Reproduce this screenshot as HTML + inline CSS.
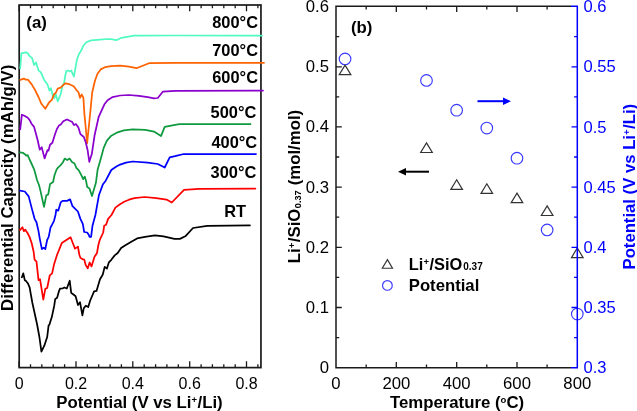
<!DOCTYPE html>
<html><head><meta charset="utf-8"><style>
html,body{margin:0;padding:0;background:#fff;}
body{width:637px;height:411px;overflow:hidden;}
svg{display:block;font-family:"Liberation Sans", sans-serif;will-change:transform;}
</style></head><body>
<svg width="637" height="411" viewBox="0 0 637 411">
<path d="M19.1,367.6v-6.3M19.1,5.0v6.3M30.5,367.6v-3.3M30.5,5.0v3.3M41.8,367.6v-3.3M41.8,5.0v3.3M53.2,367.6v-3.3M53.2,5.0v3.3M64.6,367.6v-3.3M64.6,5.0v3.3M76.0,367.6v-6.3M76.0,5.0v6.3M87.3,367.6v-3.3M87.3,5.0v3.3M98.7,367.6v-3.3M98.7,5.0v3.3M110.1,367.6v-3.3M110.1,5.0v3.3M121.4,367.6v-3.3M121.4,5.0v3.3M132.8,367.6v-6.3M132.8,5.0v6.3M144.2,367.6v-3.3M144.2,5.0v3.3M155.6,367.6v-3.3M155.6,5.0v3.3M166.9,367.6v-3.3M166.9,5.0v3.3M178.3,367.6v-3.3M178.3,5.0v3.3M189.7,367.6v-6.3M189.7,5.0v6.3M201.1,367.6v-3.3M201.1,5.0v3.3M212.4,367.6v-3.3M212.4,5.0v3.3M223.8,367.6v-3.3M223.8,5.0v3.3M235.2,367.6v-3.3M235.2,5.0v3.3M246.5,367.6v-6.3M246.5,5.0v6.3M257.9,367.6v-3.3M257.9,5.0v3.3" stroke="#1a1a1a" stroke-width="1.3" fill="none"/>
<rect x="19.2" y="5.0" width="241.75" height="362.6" fill="none" stroke="#1a1a1a" stroke-width="1.7"/>
<text x="19.1" y="389" font-size="16" text-anchor="middle">0</text>
<text x="76.0" y="389" font-size="16" text-anchor="middle">0.2</text>
<text x="132.8" y="389" font-size="16" text-anchor="middle">0.4</text>
<text x="189.7" y="389" font-size="16" text-anchor="middle">0.6</text>
<text x="246.5" y="389" font-size="16" text-anchor="middle">0.8</text>
<text x="139.5" y="407.6" font-size="16.8" font-weight="bold" text-anchor="middle">Potential (V vs Li<tspan font-size="9.5" dy="-5">+</tspan><tspan dy="5" dx="0.5">/Li)</tspan></text>
<text transform="translate(12.5,187.8) rotate(-90)" font-size="16.8" font-weight="bold" text-anchor="middle">Differential Capacity (mAh/g/V)</text>
<text x="26.3" y="27.5" font-size="16.8" font-weight="bold">(a)</text>
<text x="258.0" y="28.4" font-size="16.4" font-weight="bold" text-anchor="end">800°C</text>
<text x="258.0" y="55.6" font-size="16.4" font-weight="bold" text-anchor="end">700°C</text>
<text x="258.0" y="83.0" font-size="16.4" font-weight="bold" text-anchor="end">600°C</text>
<text x="256.3" y="117.8" font-size="16.4" font-weight="bold" text-anchor="end">500°C</text>
<text x="257.2" y="147.7" font-size="16.4" font-weight="bold" text-anchor="end">400°C</text>
<text x="256.3" y="178.3" font-size="16.4" font-weight="bold" text-anchor="end">300°C</text>
<text x="246.0" y="216.8" font-size="16.4" font-weight="bold" text-anchor="end">RT</text>
<polyline points="20.2,68.4 21.4,53.3 23.4,52.8 25.8,52.3 27.8,53.3 29.2,55.7 32.1,58.1 34.1,65.0 36.0,62.5 38.5,70.3 40.9,72.3 43.8,79.1 45.0,81.3 47.4,84.2 49.4,90.6 50.8,88.1 52.8,95.4 54.2,98.4 55.7,94.0 57.7,101.3 60.6,94.5 62.5,85.7 64.0,83.3 65.4,75.0 66.3,71.0 68.3,70.5 69.2,71.5 71.2,70.5 72.7,73.9 73.9,76.5 75.6,67.1 77.0,59.3 79.0,54.0 80.9,51.1 83.4,45.7 86.3,42.3 91.1,40.4 100.0,39.6 107.6,39.0 111.0,39.2 116.4,40.2 121.4,37.8 133.9,35.7 175.0,35.5 262.0,35.7" fill="none" stroke="#50fac0" stroke-width="1.75" stroke-linejoin="round" stroke-linecap="round"/>
<polyline points="20.3,79.8 23.9,78.6 25.3,79.5 27.8,79.5 31.7,84.4 34.6,89.2 38.5,97.0 41.4,103.8 45.3,108.8 48.9,102.7 51.8,99.8 54.2,94.0 55.7,93.0 57.7,88.6 60.6,87.7 64.5,83.8 65.4,83.3 69.3,84.2 73.7,86.2 76.1,89.6 78.6,92.5 80.0,97.9 81.8,94.5 83.4,97.9 84.4,113.9 85.9,129.5 87.1,143.4 89.5,120.0 90.5,110.0 92.2,92.5 95.0,80.5 97.5,73.8 100.7,69.4 105.0,67.2 111.3,66.1 120.1,65.7 128.9,66.6 136.5,68.2 149.0,63.2 175.0,62.8 264.0,62.8" fill="none" stroke="#ff6200" stroke-width="1.75" stroke-linejoin="round" stroke-linecap="round"/>
<polyline points="20.2,129.3 21.9,114.7 24.4,115.7 27.8,117.7 29.7,120.1 31.7,124.0 34.1,126.9 36.3,135.0 37.8,140.8 39.7,149.6 41.7,147.2 44.6,158.4 47.5,150.1 48.5,150.6 50.0,144.7 52.4,142.8 55.0,134.3 56.9,129.0 58.9,125.6 60.8,124.6 63.3,121.2 66.2,119.7 67.7,119.7 69.6,120.7 72.0,121.7 74.0,125.1 75.9,124.1 78.4,127.5 80.3,133.8 82.3,135.8 83.7,136.8 85.7,142.1 87.6,150.0 89.3,161.8 91.8,154.1 94.7,134.7 98.6,117.2 104.4,104.3 107.6,100.2 112.6,97.1 120.1,95.5 128.9,95.0 139.0,95.8 147.8,97.1 154.0,98.3 157.8,98.0 162.8,91.7 175.0,90.8 263.0,90.6" fill="none" stroke="#8a00cc" stroke-width="1.75" stroke-linejoin="round" stroke-linecap="round"/>
<polyline points="20.0,152.3 22.9,152.8 24.8,154.2 26.3,155.7 27.8,155.2 28.7,157.7 31.7,164.0 34.1,169.3 35.5,174.2 37.0,180.0 39.0,185.0 40.4,190.6 44.0,206.8 46.3,195.4 48.2,194.5 50.1,183.9 53.1,182.0 54.5,175.2 56.5,169.8 58.0,167.6 60.4,165.4 62.8,162.5 64.7,158.6 67.2,160.1 69.6,158.6 72.0,162.0 74.5,163.5 76.4,167.9 78.8,170.3 81.3,175.2 83.2,179.1 84.7,176.6 86.1,181.0 87.1,186.7 89.5,188.6 92.0,196.0 95.9,182.8 97.6,169.8 100.7,158.9 103.8,147.6 106.9,140.7 111.3,135.7 117.6,132.3 123.9,130.4 132.7,129.4 145.3,129.8 154.0,131.6 161.0,136.1 164.7,126.9 175.0,124.8 179.4,124.2 250.5,124.0" fill="none" stroke="#109a40" stroke-width="1.75" stroke-linejoin="round" stroke-linecap="round"/>
<polyline points="20.0,190.6 24.8,191.5 28.7,196.4 31.7,208.1 33.6,215.0 34.6,218.9 36.5,222.3 38.5,231.1 39.9,239.3 41.9,249.1 43.8,247.6 45.3,249.1 47.2,239.8 48.7,236.9 50.6,227.2 52.1,224.7 54.0,220.8 55.5,215.0 56.3,209.7 58.2,210.7 60.7,202.4 62.6,200.9 67.0,200.9 70.1,199.4 72.5,206.2 75.0,208.6 77.9,211.5 80.4,218.9 82.8,223.8 84.2,232.0 87.2,232.5 88.6,234.5 89.6,236.9 91.1,236.9 92.5,225.7 95.4,215.0 98.9,195.3 102.8,184.6 105.7,180.7 111.3,170.0 116.0,166.8 120.1,164.6 126.0,162.6 132.7,161.5 147.8,162.7 157.8,164.0 164.7,167.5 169.7,157.4 175.0,156.2 183.8,154.0 256.0,154.1" fill="none" stroke="#0000ff" stroke-width="1.75" stroke-linejoin="round" stroke-linecap="round"/>
<polyline points="20.0,230.1 22.4,227.2 23.9,231.1 25.3,229.6 27.8,233.5 29.7,237.4 31.7,243.2 33.6,251.5 34.6,259.7 36.5,261.7 38.5,280.2 40.0,279.2 43.3,299.6 45.3,288.9 47.2,288.0 49.8,275.3 52.1,273.4 54.0,264.6 57.0,255.0 61.8,243.1 70.6,237.3 72.5,242.2 75.0,248.6 77.9,246.6 79.4,255.0 80.4,257.7 82.3,259.1 84.2,259.6 85.7,265.0 87.7,268.4 89.6,262.5 91.5,266.4 94.5,256.7 96.9,253.3 98.4,245.0 99.8,239.8 103.2,232.5 104.2,225.7 106.1,224.7 108.1,218.9 111.5,215.0 115.4,207.6 120.0,204.2 124.2,201.8 129.0,199.7 134.4,198.1 144.6,197.0 156.3,198.1 166.5,199.6 171.8,202.5 184.0,189.9 199.0,188.8 255.4,188.6" fill="none" stroke="#ff0000" stroke-width="1.75" stroke-linejoin="round" stroke-linecap="round"/>
<polyline points="21.9,277.3 23.3,273.4 24.8,280.2 25.8,280.8 27.8,283.2 29.7,287.6 30.4,291.8 32.3,302.5 34.2,311.3 37.2,325.0 39.4,337.0 41.4,351.6 44.3,345.7 47.2,337.0 48.6,325.3 49.3,325.0 51.8,317.1 54.2,305.9 55.2,299.1 57.1,297.7 59.1,290.8 60.0,288.7 62.4,288.5 64.4,287.5 66.8,288.5 69.7,280.7 71.2,292.9 73.1,294.3 75.6,296.3 78.0,305.0 80.0,302.2 82.4,315.4 83.8,308.1 85.8,305.7 88.2,307.0 90.2,300.5 94.1,291.4 96.5,290.9 100.0,279.2 102.7,274.7 104.7,266.9 106.9,268.6 108.9,262.3 111.3,259.8 114.7,255.4 117.7,253.0 121.1,248.1 125.4,245.2 131.3,241.8 137.1,238.4 145.0,236.8 154.9,235.4 163.6,236.4 174.4,238.9 179.9,238.9 185.3,236.3 193.0,228.0 207.2,225.8 249.9,225.4" fill="none" stroke="#000000" stroke-width="1.75" stroke-linejoin="round" stroke-linecap="round"/>
<path d="M366.2,367.7v-3.2M366.2,6.3v3.2M396.3,367.7v-5.8M396.3,6.3v5.8M426.5,367.7v-3.2M426.5,6.3v3.2M456.7,367.7v-5.8M456.7,6.3v5.8M486.8,367.7v-3.2M486.8,6.3v3.2M517.0,367.7v-5.8M517.0,6.3v5.8M547.1,367.7v-3.2M547.1,6.3v3.2M336.0,337.6h3.2M336.0,307.5h5.8M336.0,277.4h3.2M336.0,247.3h5.8M336.0,217.2h3.2M336.0,187.1h5.8M336.0,157.0h3.2M336.0,126.9h5.8M336.0,96.8h3.2M336.0,66.8h5.8M336.0,36.7h3.2" stroke="#1a1a1a" stroke-width="1.3" fill="none"/>
<path d="M571.0,6.3H336.0V367.7H571.0" stroke="#1a1a1a" stroke-width="1.5" fill="none"/>
<text transform="translate(329,373.10) scale(1.045,1)" font-size="16" text-anchor="end">0</text>
<text transform="translate(329,312.91) scale(1.045,1)" font-size="16" text-anchor="end">0.1</text>
<text transform="translate(329,252.72) scale(1.045,1)" font-size="16" text-anchor="end">0.2</text>
<text transform="translate(329,192.53) scale(1.045,1)" font-size="16" text-anchor="end">0.3</text>
<text transform="translate(329,132.34) scale(1.045,1)" font-size="16" text-anchor="end">0.4</text>
<text transform="translate(329,72.15) scale(1.045,1)" font-size="16" text-anchor="end">0.5</text>
<text transform="translate(329,11.96) scale(1.045,1)" font-size="16" text-anchor="end">0.6</text>
<text transform="translate(336.00,388.7) scale(1.045,1)" font-size="16" text-anchor="middle">0</text>
<text transform="translate(396.33,388.7) scale(1.045,1)" font-size="16" text-anchor="middle">200</text>
<text transform="translate(456.65,388.7) scale(1.045,1)" font-size="16" text-anchor="middle">400</text>
<text transform="translate(516.98,388.7) scale(1.045,1)" font-size="16" text-anchor="middle">600</text>
<text transform="translate(577.30,388.7) scale(1.045,1)" font-size="16" text-anchor="middle">800</text>
<text transform="translate(583.5,373.30) scale(1.035,1)" font-size="16" fill="#0000ff">0.3</text>
<text transform="translate(583.5,313.11) scale(1.035,1)" font-size="16" fill="#0000ff">0.35</text>
<text transform="translate(583.5,252.92) scale(1.035,1)" font-size="16" fill="#0000ff">0.4</text>
<text transform="translate(583.5,192.73) scale(1.035,1)" font-size="16" fill="#0000ff">0.45</text>
<text transform="translate(583.5,132.54) scale(1.035,1)" font-size="16" fill="#0000ff">0.5</text>
<text transform="translate(583.5,72.35) scale(1.035,1)" font-size="16" fill="#0000ff">0.55</text>
<text transform="translate(583.5,12.16) scale(1.035,1)" font-size="16" fill="#0000ff">0.6</text>
<text x="457" y="407.6" font-size="16.8" font-weight="bold" text-anchor="middle">Temperature (<tspan font-size="9.5" dy="-4.6">o</tspan><tspan dy="4.6">C)</tspan></text>
<text transform="translate(300.2,186.5) rotate(-90)" font-size="16.8" font-weight="bold" text-anchor="middle">Li<tspan font-size="9.5" dy="-5">+</tspan><tspan dy="5" dx="0.5">/SiO</tspan><tspan font-size="9.2" dy="1.1" dx="0.4">0.37</tspan><tspan dy="-1.1" dx="0.3"> (mol/mol)</tspan></text>
<text transform="translate(635,186.7) rotate(-90)" font-size="16.7" font-weight="bold" text-anchor="middle" fill="#0000ff">Potential (V vs Li<tspan font-size="9.5" dy="-5">+</tspan><tspan dy="5" dx="0.5">/Li)</tspan></text>
<text x="351" y="32.8" font-size="16.8" font-weight="bold">(b)</text>
<circle cx="345.05" cy="58.90" r="5.8" fill="none" stroke="#3a3aff" stroke-width="1.15"/>
<circle cx="426.49" cy="80.40" r="5.8" fill="none" stroke="#3a3aff" stroke-width="1.15"/>
<circle cx="456.65" cy="110.20" r="5.8" fill="none" stroke="#3a3aff" stroke-width="1.15"/>
<circle cx="486.81" cy="128.00" r="5.8" fill="none" stroke="#3a3aff" stroke-width="1.15"/>
<circle cx="516.98" cy="158.20" r="5.8" fill="none" stroke="#3a3aff" stroke-width="1.15"/>
<circle cx="547.14" cy="229.90" r="5.8" fill="none" stroke="#3a3aff" stroke-width="1.15"/>
<circle cx="577.30" cy="314.00" r="5.8" fill="none" stroke="#3a3aff" stroke-width="1.15"/>
<path d="M345.05,65.10L350.85,74.70H339.25Z" fill="none" stroke="#333" stroke-width="1.2" stroke-linejoin="miter"/>
<path d="M426.49,142.90L432.29,152.50H420.69Z" fill="none" stroke="#333" stroke-width="1.2" stroke-linejoin="miter"/>
<path d="M456.65,179.80L462.45,189.40H450.85Z" fill="none" stroke="#333" stroke-width="1.2" stroke-linejoin="miter"/>
<path d="M486.81,183.80L492.62,193.40H481.01Z" fill="none" stroke="#333" stroke-width="1.2" stroke-linejoin="miter"/>
<path d="M516.98,193.10L522.78,202.70H511.18Z" fill="none" stroke="#333" stroke-width="1.2" stroke-linejoin="miter"/>
<path d="M547.14,205.90L552.94,215.50H541.34Z" fill="none" stroke="#333" stroke-width="1.2" stroke-linejoin="miter"/>
<path d="M577.30,248.00L583.10,257.60H571.50Z" fill="none" stroke="#333" stroke-width="1.2" stroke-linejoin="miter"/>
<path d="M577.3,337.6h-3.2M577.3,307.5h-5.8M577.3,277.4h-3.2M577.3,247.3h-5.8M577.3,217.2h-3.2M577.3,187.1h-5.8M577.3,157.0h-3.2M577.3,126.9h-5.8M577.3,96.8h-3.2M577.3,66.8h-5.8M577.3,36.7h-3.2" stroke="#0000ff" stroke-width="1.3" fill="none"/>
<path d="M571.0,6.3H577.3V367.7H571.0" stroke="#0000ff" stroke-width="1.5" fill="none"/>
<path d="M387.4,259.6L392.5,268.2H382.3Z" fill="none" stroke="#333" stroke-width="1.15"/>
<circle cx="387.4" cy="285.4" r="4.85" fill="none" stroke="#3a3aff" stroke-width="1.15"/>
<text x="408.8" y="269.7" font-size="16.4" font-weight="bold">Li<tspan font-size="9.5" dy="-5">+</tspan><tspan dy="5" dx="0.5">/SiO</tspan><tspan font-size="10" dx="1" dy="0.6">0.37</tspan></text>
<text x="408.8" y="290.8" font-size="16.7" font-weight="bold">Potential</text>
<path d="M429,171.7H404" stroke="#000" stroke-width="2"/><path d="M398,171.7L406,168V175.4Z" fill="#000"/>
<path d="M477.5,101.2H503" stroke="#0000ff" stroke-width="2"/><path d="M511,101.2L503,97.5V104.9Z" fill="#0000ff"/>
</svg>
</body></html>
